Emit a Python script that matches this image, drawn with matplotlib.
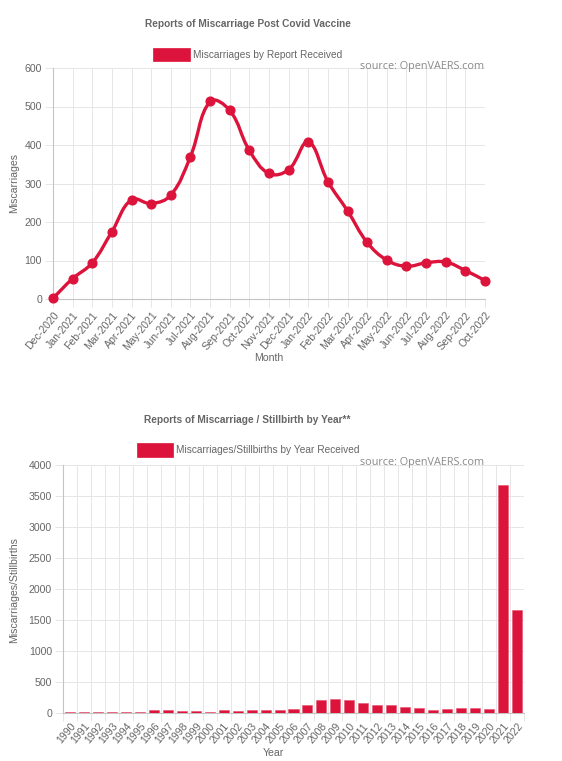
import numpy as np
import matplotlib
matplotlib.use('Agg')
import matplotlib.pyplot as plt
from matplotlib.path import Path
from matplotlib.patches import PathPatch, Rectangle

# ---------------- data ----------------
months = ['Dec-2020', 'Jan-2021', 'Feb-2021', 'Mar-2021', 'Apr-2021', 'May-2021',
          'Jun-2021', 'Jul-2021', 'Aug-2021', 'Sep-2021', 'Oct-2021', 'Nov-2021',
          'Dec-2021', 'Jan-2022', 'Feb-2022', 'Mar-2022', 'Apr-2022', 'May-2022',
          'Jun-2022', 'Jul-2022', 'Aug-2022', 'Sep-2022', 'Oct-2022']
miscarriages = [2, 53, 94, 175, 258, 248, 270, 370, 513, 490, 386, 326,
                336, 408, 305, 229, 147, 101, 85, 94, 96, 74, 48]

years = ['1990', '1991', '1992', '1993', '1994', '1995', '1996', '1997', '1998',
         '1999', '2000', '2001', '2002', '2003', '2004', '2005', '2006', '2007',
         '2008', '2009', '2010', '2011', '2012', '2013', '2014', '2015', '2016',
         '2017', '2018', '2019', '2020', '2021', '2022']
yearly = [18, 15, 15, 15, 17, 22, 50, 42, 33, 33, 20, 45, 35, 50, 50, 45, 65,
          134, 212, 226, 210, 161, 123, 128, 92, 85, 56, 72, 82, 86, 66, 3677, 1661]

top_ticks = [0, 100, 200, 300, 400, 500, 600]
bot_ticks = [0, 500, 1000, 1500, 2000, 2500, 3000, 3500, 4000]

# ---------------- style ----------------
W, H = 562, 761
fig = plt.figure(figsize=(W / 100, H / 100), dpi=100)
plt.rcParams['font.family'] = ['Liberation Sans', 'DejaVu Sans']

RED = '#DC143C'
TXT = '#666666'
GRID = '#e6e6e6'
AXIS = '#c4c4c4'
FS = 7.6


def rect(l, t, r, b):
    return [l / W, 1 - b / H, (r - l) / W, (b - t) / H]


def fx(x):
    return x / W


def fy(y):
    return 1 - y / H


def style_axes(ax):
    for s in ['top', 'right']:
        ax.spines[s].set_visible(False)
    for s in ['left', 'bottom']:
        ax.spines[s].set_color(AXIS)
        ax.spines[s].set_linewidth(0.8)
    ax.set_axisbelow(True)
    ax.tick_params(which='both', length=6, color=GRID, labelcolor=TXT,
                   labelsize=FS, pad=2, width=0.72)


def legend(x0, x1, y0, y1, label):
    fig.patches.append(Rectangle((fx(x0), fy(y1)), fx(x1) - fx(x0), fy(y0) - fy(y1),
                                 transform=fig.transFigure, facecolor=RED,
                                 edgecolor=RED, lw=0.5))
    fig.text(fx(x1 + 3), fy((y0 + y1) / 2), label, color=TXT, fontsize=7.3,
             ha='left', va='center')


# ================= top chart =================
fig.text(fx(248), fy(24), 'Reports of Miscarriage Post Covid Vaccine',
         ha='center', va='center', fontsize=7.25, fontweight='bold', color=TXT)
legend(153, 190, 48, 61, 'Miscarriages by Report Received')
fig.text(fx(484), fy(67), 'source: OpenVAERS.com', ha='right', va='center',
         fontsize=7.8, color='#8a8a8a', family='Open Sans')

L, T, R, B = 53, 68, 485, 299
ax1 = fig.add_axes(rect(L, T, R, B))
style_axes(ax1)
n = len(months)
ax1.set_xlim(0, n - 1)
ax1.set_ylim(0, 600)
ax1.set_yticks(top_ticks)
ax1.set_xticks(range(n))
ax1.set_xticklabels(months, rotation=50, ha='right', rotation_mode='anchor')
ax1.grid(True, color=GRID, lw=0.72)

# Chart.js-style bezier (tension 0.4), computed in pixel space
sx = (R - L) / (n - 1)
sy = (B - T) / 600.0
px = np.arange(n) * sx
py = np.array(miscarriages, dtype=float) * sy
t = 0.4
cp_prev = []
cp_next = []
for i in range(n):
    pr = i - 1 if i > 0 else i
    nx = i + 1 if i < n - 1 else i
    d01 = np.hypot(px[i] - px[pr], py[i] - py[pr])
    d12 = np.hypot(px[nx] - px[i], py[nx] - py[i])
    tot = d01 + d12
    s01 = d01 / tot if tot else 0
    s12 = d12 / tot if tot else 0
    dx = px[nx] - px[pr]
    dy = py[nx] - py[pr]
    cp_prev.append((px[i] - t * s01 * dx, py[i] - t * s01 * dy))
    cp_next.append((px[i] + t * s12 * dx, py[i] + t * s12 * dy))
verts = [(px[0], py[0])]
codes = [Path.MOVETO]
for i in range(n - 1):
    verts += [cp_next[i], cp_prev[i + 1], (px[i + 1], py[i + 1])]
    codes += [Path.CURVE4] * 3
verts = [(vx / sx, vy / sy) for vx, vy in verts]
ax1.add_patch(PathPatch(Path(verts, codes), facecolor='none', edgecolor=RED,
                        lw=2.4, clip_on=False, zorder=3))
ax1.plot(range(n), miscarriages, 'o', color=RED, ms=6.3, clip_on=False, zorder=4)

fig.text(fx(14), fy(183), 'Miscarriages', rotation=90, ha='center', va='center',
         fontsize=FS, color=TXT)
fig.text(fx(269), fy(358), 'Month', ha='center', va='center', fontsize=FS, color=TXT)

# ================= bottom chart =================
fig.text(fx(247), fy(420), 'Reports of Miscarriage / Stillbirth by Year**',
         ha='center', va='center', fontsize=7.25, fontweight='bold', color=TXT)
legend(137, 173, 443, 457, 'Miscarriages/Stillbirths by Year Received')
fig.text(fx(484), fy(463), 'source: OpenVAERS.com', ha='right', va='center',
         fontsize=7.8, color='#8a8a8a', family='Open Sans')

ax2 = fig.add_axes(rect(63, 465, 524, 713))
style_axes(ax2)
m = len(years)
ax2.bar(range(m), yearly, width=0.72, color=RED, edgecolor='#e8506d', lw=0.4, zorder=3)
ax2.set_xlim(-0.5, m - 0.5)
ax2.set_ylim(0, 4000)
ax2.set_yticks(bot_ticks)
ax2.set_xticks(range(m))
ax2.set_xticklabels(years, rotation=50, ha='right', rotation_mode='anchor')
ax2.set_xticks(np.arange(-0.5, m, 1.0), minor=True)
ax2.tick_params(axis='x', which='major', length=0, pad=6)
ax2.grid(True, axis='y', color=GRID, lw=0.72)
ax2.grid(True, axis='x', which='minor', color=GRID, lw=0.72)

fig.text(fx(14), fy(590), 'Miscarriages/Stillbirths', rotation=90, ha='center',
         va='center', fontsize=FS, color=TXT)
fig.text(fx(273), fy(753), 'Year', ha='center', va='center', fontsize=FS, color=TXT)

fig.savefig('out.png', dpi=100, facecolor='white')
